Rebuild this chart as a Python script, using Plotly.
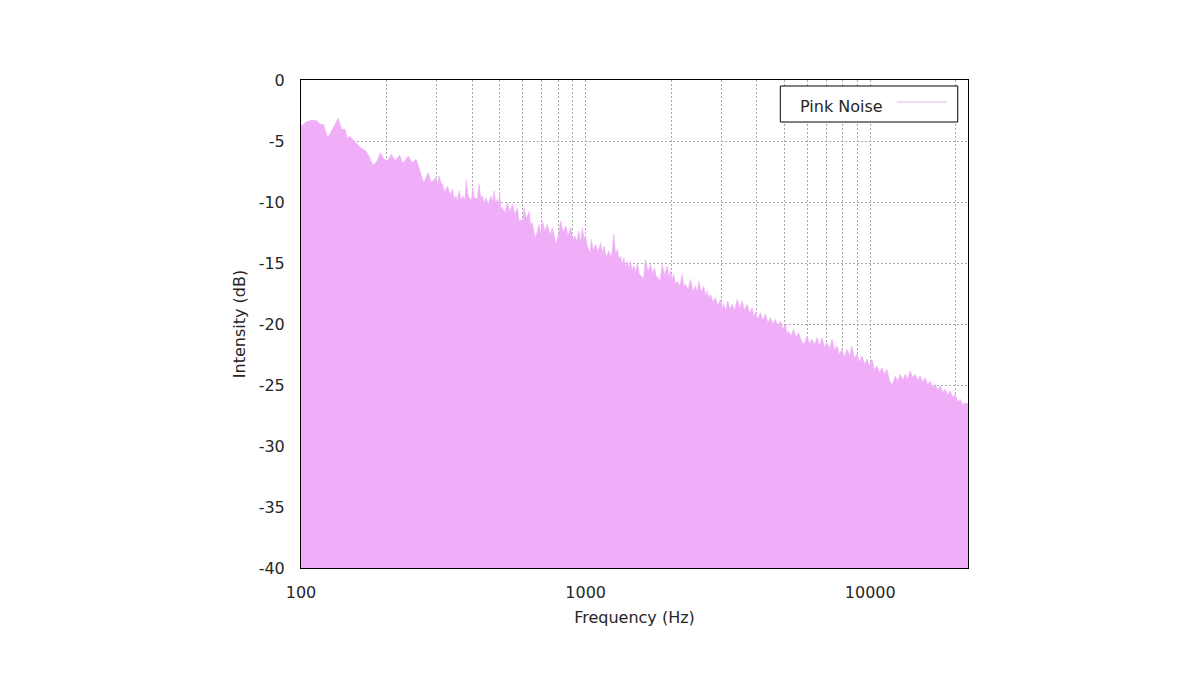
import plotly.graph_objects as go

# spectrum (frequency in Hz, intensity in dB)
FREQ_HZ = [
    100, 104, 110, 114, 117, 120, 124, 127, 131, 135, 139, 143, 145, 149,
    156, 162, 169, 173, 179, 185, 190, 196, 201, 208, 214, 222, 228, 238,
    246, 254, 263, 270, 280, 287,
    297, 301, 306, 310, 314, 320, 327, 334, 341, 345, 350, 354, 359, 365,
    371, 376, 381, 385, 390, 396, 402, 406, 411, 416, 422, 428, 434, 440,
    446, 455, 464, 470, 477, 483, 490, 494, 499, 504, 510, 520, 531, 542,
    553, 564, 576, 584, 592, 600, 608, 620, 633, 641, 650, 657, 664, 675,
    686, 695, 705, 719, 734, 749, 764, 776, 789, 803, 817, 834, 851, 868,
    886, 901, 917, 932, 947, 960, 974, 987,
    1000, 1013, 1027, 1037, 1047, 1065, 1084, 1106, 1129, 1144, 1159, 1183,
    1207, 1232, 1257, 1274, 1292, 1310, 1327, 1345, 1363, 1382, 1401, 1420,
    1439, 1458, 1478, 1498, 1519, 1543, 1568, 1596, 1624, 1657, 1691, 1718,
    1746, 1770, 1794, 1826, 1858, 1896, 1935, 1961, 1987, 2014, 2041, 2069,
    2098, 2141, 2184, 2213, 2243, 2289, 2336, 2384, 2432, 2465, 2498, 2549,
    2601, 2637, 2673, 2709, 2746, 2801, 2858, 2917, 2977, 3017, 3057, 3107,
    3157, 3213, 3271, 3338, 3407, 3476, 3547, 3620, 3694, 3769, 3846, 3898,
    3950, 4030, 4111, 4195, 4281, 4369, 4458, 4549, 4642, 4737, 4833, 4932,
    5033, 5100, 5168, 5274, 5381, 5491, 5603, 5681, 5760, 5878, 5997, 6120,
    6244, 6371, 6501, 6633, 6768, 6907, 7048, 7192, 7339, 7489, 7641, 7796,
    7955, 8117, 8283, 8452, 8624, 8800, 8980, 9164, 9352, 9542, 9736, 9936,
    10140, 10350, 10560, 10770, 10990, 11220, 11450, 11600, 11750, 11990,
    12240, 12490, 12740, 13000, 13270, 13540, 13820, 14100, 14390, 14680,
    14980, 15290, 15600, 15920, 16240, 16570, 16910, 17260, 17610, 17970,
    18340, 18710, 19090, 19480, 19880, 20290, 20700, 21120, 21540, 22050,
]
INTENSITY_DB = [
    -3.80, -3.44, -3.28, -3.36, -3.63, -3.63, -4.73, -4.32, -3.77, -3.14,
    -4.04, -4.04, -4.73, -4.65, -5.14, -5.55, -5.82, -6.23, -6.99, -6.64,
    -5.96, -6.50, -6.64, -6.09, -6.64, -6.17, -6.83, -6.23, -6.78, -6.50,
    -7.60, -8.42, -7.60, -8.42,
    -8.01, -8.60, -7.87, -8.40, -8.55, -9.20, -8.69, -9.40, -8.96, -9.80,
    -9.51, -9.90, -9.10, -9.85, -9.51, -9.95, -8.14, -9.30, -9.65, -9.90,
    -8.96, -9.75, -9.65, -9.90, -8.55, -9.60, -9.51, -10.10, -9.65, -10.20,
    -9.51, -10.00, -9.10, -10.10, -9.78, -10.30, -9.24, -10.60, -10.47,
    -10.90, -10.06, -10.80, -10.19, -11.00, -10.47, -11.60, -11.42, -11.80,
    -10.47, -11.40, -10.74, -11.90, -11.70, -12.40, -12.93, -12.50, -11.83,
    -12.60, -11.56, -12.40, -11.83, -12.70, -12.11, -12.80, -13.47, -12.60,
    -11.56, -12.50, -11.97, -12.80, -12.05, -13.10, -12.79, -13.20, -12.38,
    -13.30, -12.11, -13.00,
    -12.79, -13.60, -14.02, -14.20, -13.06, -14.00, -13.47, -14.10, -13.34,
    -14.20, -13.61, -14.50, -14.02, -14.60, -12.65, -14.30, -13.88, -14.70,
    -14.43, -15.10, -14.57, -15.40, -14.84, -15.50, -14.84, -15.60, -15.25,
    -15.80, -14.98, -15.90, -16.07, -16.30, -14.70, -15.70, -15.11, -15.90,
    -15.39, -16.10, -16.20, -16.50, -15.11, -16.00, -15.25, -16.20, -15.66,
    -16.40, -15.93, -16.80, -16.48, -16.90, -15.93, -16.90, -16.75, -17.20,
    -16.34, -17.30, -16.89, -17.40, -16.48, -17.40,
    -16.89, -17.70, -17.30, -17.90, -17.57, -18.20, -17.84, -18.50, -17.98,
    -18.70, -18.39, -18.90, -18.11, -18.80, -18.39, -18.90, -17.98, -18.70,
    -18.11, -18.90, -18.39, -19.10, -18.66, -19.40, -19.07, -19.60, -19.07,
    -19.70, -19.20, -19.90, -19.48, -20.00, -19.61, -20.20, -19.75, -20.40,
    -20.02, -20.80, -20.57, -21.00, -20.43, -21.10, -20.71, -21.20, -21.53,
    -21.60, -20.98, -21.60, -21.25, -21.70, -21.12, -21.80, -21.12, -21.90,
    -21.53, -22.00, -21.25, -22.10, -21.80, -22.50,
    -22.07, -22.70, -22.07, -22.60, -21.80, -22.80, -22.48, -23.10, -22.62,
    -23.30, -22.89, -23.40, -22.89, -23.80, -23.44, -24.00, -23.58, -24.10,
    -23.71, -24.30, -24.81, -24.90, -24.26, -24.70, -24.12, -24.60, -24.12,
    -24.50, -23.85, -24.40, -24.12, -24.60, -24.26, -24.80, -24.40, -25.00,
    -24.67, -25.20, -24.94, -25.40, -25.08, -25.60, -25.35, -25.80, -25.49,
    -26.00, -25.76, -26.40, -26.17, -26.60, -26.45, -26.56,
]

X_RANGE = [100, 22050]
Y_RANGE = [-40, 0]
X_TICKS = [100, 1000, 10000]
Y_TICKS = [-40, -35, -30, -25, -20, -15, -10, -5, 0]

PINK = "#efaef7"
GRID = "#a8a8a8"
TEXT = "#262626"
FONT = "DejaVu Sans"

fig = go.Figure()

# floor of the fill, at the bottom of the y range
fig.add_trace(go.Scatter(
    x=[FREQ_HZ[0], FREQ_HZ[-1]], y=[Y_RANGE[0], Y_RANGE[0]],
    mode="lines", line=dict(width=0), showlegend=False, hoverinfo="skip",
))
fig.add_trace(go.Scatter(
    x=FREQ_HZ, y=INTENSITY_DB, name="Pink Noise",
    mode="lines", line=dict(color=PINK, width=0.6),
    fill="tonexty", fillcolor=PINK, showlegend=False,
))

# gnuplot style key: text on the left, line sample on the right
fig.add_shape(type="rect", xref="paper", yref="paper",
              x0=0.7186, x1=0.9846, y0=0.9139, y1=0.9877,
              line=dict(color="#000000", width=1), fillcolor="white")
fig.add_shape(type="line", xref="paper", yref="paper",
              x0=0.8936, x1=0.9685, y0=0.9549, y1=0.9549,
              line=dict(color=PINK, width=1.2))
fig.add_annotation(text="Pink Noise", xref="paper", yref="paper",
                   x=0.876, y=0.9467, xanchor="right", yanchor="middle",
                   showarrow=False, font=dict(family=FONT, size=16, color=TEXT))

grid_dash = "2px,2px"
axis_common = dict(
    showline=True, mirror=True, linecolor="#000000", linewidth=1,
    showgrid=True, gridcolor=GRID, griddash=grid_dash, gridwidth=1,
    ticks="", zeroline=False,
    tickfont=dict(family=FONT, size=16, color=TEXT),
)

# the page body adds an 8px offset, so margins are trimmed to match
fig.update_layout(
    width=1200, height=700,
    paper_bgcolor="white", plot_bgcolor="white",
    margin=dict(l=293, r=240, t=72, b=140),
    font=dict(family=FONT, size=16, color=TEXT),
    xaxis=dict(
        type="log", range=[2, 4.343409],
        tickvals=X_TICKS, ticktext=[str(v) for v in X_TICKS],
        minor=dict(dtick="D1", showgrid=True, gridcolor=GRID,
                   griddash=grid_dash, gridwidth=1, ticks=""),
        title=dict(text="Frequency (Hz)", standoff=10,
                   font=dict(family=FONT, size=16, color=TEXT)),
        ticklabelstandoff=10,
        **axis_common,
    ),
    yaxis=dict(
        range=Y_RANGE, tickvals=Y_TICKS, ticktext=[str(v) for v in Y_TICKS],
        title=dict(text="Intensity (dB)", standoff=9,
                   font=dict(family=FONT, size=16, color=TEXT)),
        ticklabelstandoff=12,
        **axis_common,
    ),
    showlegend=False,
)
fig.layout.xaxis.layer = "below traces"
fig.layout.yaxis.layer = "below traces"

fig.write_html("out.html")
